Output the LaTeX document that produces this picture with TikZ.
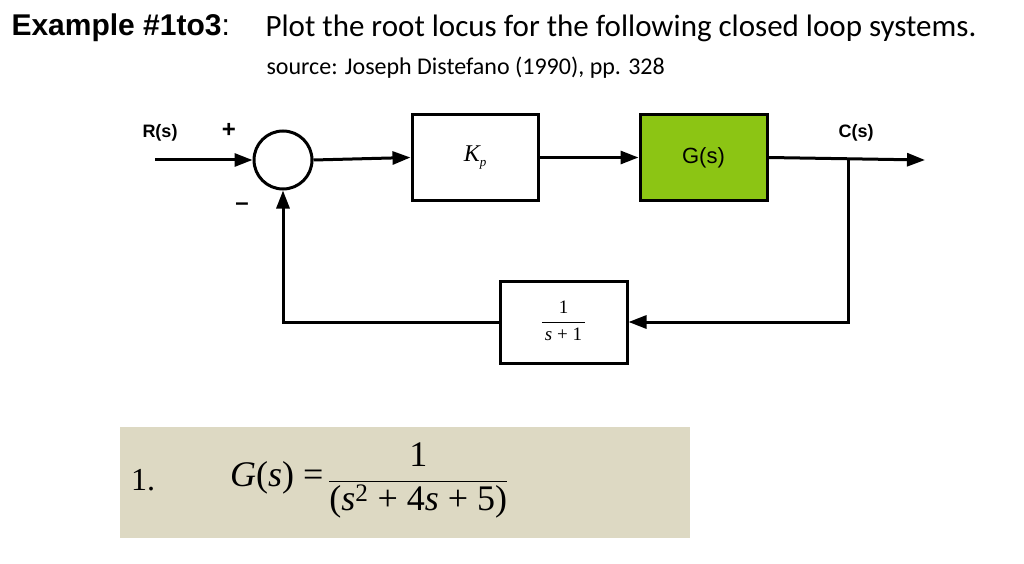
\documentclass[tikz,border=0pt]{standalone}
\usepackage{fontspec}
\setmainfont{Carlito}
\newfontfamily\hv{Liberation Sans}
\newfontfamily\tm{Liberation Serif}
\usetikzlibrary{arrows.meta}
\definecolor{gfill}{HTML}{8CC514}
\definecolor{beige}{HTML}{DDD9C3}
\begin{document}
\begin{tikzpicture}[x=1pt,y=-1pt,
  blk/.style={draw,line width=3pt,minimum width=126pt,minimum height=85pt,inner sep=0},
  sig/.style={line width=3pt},
  arr/.style={sig,-{Triangle[length=18pt,width=13pt]}},
  lab/.style={font=\hv\bfseries\fontsize{18}{18}\selectfont}]
\useasboundingbox (0,0) rectangle (1024,564);
\node[anchor=west,font=\hv\bfseries\fontsize{30}{30}\selectfont] (title) at (8,28) {Example \#1to3\textmd{:}};
\node[anchor=west,font=\fontsize{31}{31}\selectfont] (sub) at (262,28) {Plot the root locus for the following closed loop systems.};
\node[anchor=west,font=\fontsize{24}{24}\selectfont] (src) at (263,68) {source: Joseph Distefano (1990), pp. 328};
\node[draw,circle,line width=3pt,minimum size=58pt,inner sep=0] (sum) at (283,160) {};
\node[blk] (kp) at (475,157.5) {\tm\itshape\fontsize{24}{24}\selectfont K\raisebox{-5pt}{\fontsize{13}{13}\selectfont p}};
\node[blk,fill=gfill,minimum width=127pt] (g) at (703.5,157.5) {\hv\fontsize{22}{22}\selectfont G(s)};
\node[blk,minimum width=127pt,minimum height=82pt] (h) at (563.5,322) {\tm\fontsize{19}{22}\selectfont\renewcommand\arraystretch{1.2}\begin{tabular}{@{\,}c@{\,}}1\\\hline \textit{s} + 1\end{tabular}};
\coordinate (in) at (155,160);
\coordinate (out) at (925,160);
\coordinate (br) at (848,160);
\coordinate (c1) at (848,322);
\coordinate (c2) at (283,322);
\node[lab] (R) at (160,133) {R(s)};
\node[lab] (C) at (856,133) {C(s)};
\node[lab,font=\hv\bfseries\fontsize{24}{24}\selectfont] (plus) at (229,130) {+};
\node[lab,font=\hv\bfseries\fontsize{24}{24}\selectfont] (minus) at (242,207) {\textendash};
\draw[arr] (in) -- (sum.west);
\draw[arr] (sum.east) -- (kp.west);
\draw[arr] (kp.east) -- (g.west);
\draw[arr] (g.east) -- (out);
\draw[arr] (br) -- (c1) -- (h.east);
\draw[arr] (h.west) -- (c2) -- (sum.south);
\node[fill=beige,minimum width=570pt,minimum height=111pt,inner sep=0] (eq) at (405,482.5) {};
\node[font=\tm\fontsize{32}{32}\selectfont] (n1) at (143,480) {1.};
\node[anchor=west,font=\tm\fontsize{36}{36}\selectfont,inner sep=0] (geq) at (230,480) {\textit{G}(\textit{s}) =\,\renewcommand\arraystretch{1.15}\begin{tabular}{@{}c@{}}1\\[2pt]\hline (\textit{s}\textsuperscript{2} + 4\textit{s} + 5)\end{tabular}};
\end{tikzpicture}
\end{document}
